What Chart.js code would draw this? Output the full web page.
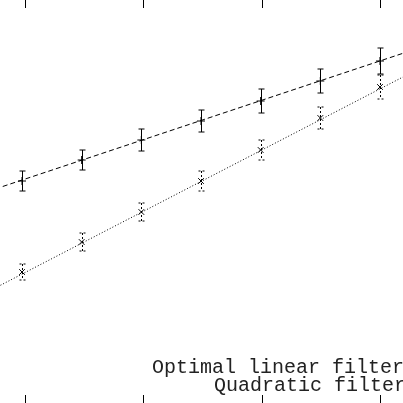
<!DOCTYPE html>
<html>
<head>
<meta charset="utf-8">
<script src="https://cdn.jsdelivr.net/npm/chart.js@4"></script>
<style>
  html, body { margin: 0; padding: 0; background: #fff; }
  #wrap { width: 403px; height: 403px; position: relative; }
</style>
</head>
<body>
<div id="wrap"><canvas id="chart"></canvas></div>
<script>
// Valeurs (unités arbitraires)
const xValues = [1, 2, 3, 4, 5, 6, 7];
const linearValues = [222, 243, 263, 282, 302, 322, 342];
const linearErrors = [10, 10, 11, 11, 12, 12, 13];
const quadValues = [131, 161, 191, 222, 253, 285, 316];
const quadErrors = [8, 9, 9, 10, 10, 11, 12];
// droites d'ajustement, jusqu'aux bords de l'image
const fitX = [0.55, 7.45];
const linearFit = [214, 351];
const quadFit = [115, 328];
const tickX = [1.05, 3.03, 5.02, 7.0];
const legendLabels = ["Optimal linear filter", "Quadratic filter"];

const toPts = (xs, ys) => xs.map((x, i) => ({ x: x, y: ys[i] }));

// barres d'erreur + graduations + légende façon gnuplot
const gnuplotExtras = {
  id: "gnuplotExtras",
  afterDatasetsDraw(chart) {
    const ctx = chart.ctx;
    const xs = chart.scales.x, ys = chart.scales.y;
    const series = [
      { vals: linearValues, errs: linearErrors, dash: [] },
      { vals: quadValues, errs: quadErrors, dash: [2, 2] }
    ];
    ctx.save();
    ctx.strokeStyle = "#000";
    ctx.lineWidth = 1;
    series.forEach(s => {
      ctx.setLineDash(s.dash);
      xValues.forEach((x, i) => {
        const px = Math.round(xs.getPixelForValue(x)) + 0.5;
        const top = ys.getPixelForValue(s.vals[i] + s.errs[i]);
        const bot = ys.getPixelForValue(s.vals[i] - s.errs[i]);
        ctx.beginPath();
        ctx.moveTo(px, top); ctx.lineTo(px, bot);
        ctx.moveTo(px - 3, top); ctx.lineTo(px + 3, top);
        ctx.moveTo(px - 3, bot); ctx.lineTo(px + 3, bot);
        ctx.stroke();
      });
    });
    ctx.setLineDash([]);
    tickX.forEach(x => {
      const px = Math.round(xs.getPixelForValue(x)) + 0.5;
      ctx.beginPath();
      ctx.moveTo(px, 0); ctx.lineTo(px, 8);
      ctx.moveTo(px, 403); ctx.lineTo(px, 395);
      ctx.stroke();
    });
    ctx.fillStyle = "#222";
    ctx.font = "20px 'Liberation Mono', 'DejaVu Sans Mono', monospace";
    ctx.textAlign = "left";
    ctx.textBaseline = "middle";
    ctx.fillText(legendLabels[0], 152, 368);
    ctx.fillText(legendLabels[1], 214, 386);
    ctx.restore();
  }
};

new Chart(document.getElementById("chart"), {
  type: "scatter",
  data: {
    datasets: [
      {
        label: legendLabels[0],
        data: toPts(fitX, linearFit),
        showLine: true,
        borderColor: "#000",
        borderWidth: 1,
        borderDash: [5, 3],
        pointRadius: 0,
        clip: false
      },
      {
        label: legendLabels[1],
        data: toPts(fitX, quadFit),
        showLine: true,
        borderColor: "#000",
        borderWidth: 1,
        borderDash: [1, 2],
        pointRadius: 0,
        clip: false
      },
      {
        label: "pts1",
        data: toPts(xValues, linearValues),
        pointStyle: "cross",
        pointRadius: 4,
        borderColor: "#000",
        borderWidth: 1
      },
      {
        label: "pts2",
        data: toPts(xValues, quadValues),
        pointStyle: "crossRot",
        pointRadius: 4,
        borderColor: "#000",
        borderWidth: 1
      }
    ]
  },
  options: {
    responsive: true,
    maintainAspectRatio: false,
    animation: false,
    layout: { padding: 0 },
    plugins: { legend: { display: false }, tooltip: { enabled: false } },
    scales: {
      x: { type: "linear", min: 0.715, max: 7.302, display: false },
      y: { type: "linear", min: 5, max: 398, display: false }
    }
  },
  plugins: [gnuplotExtras]
});
</script>
</body>
</html>
